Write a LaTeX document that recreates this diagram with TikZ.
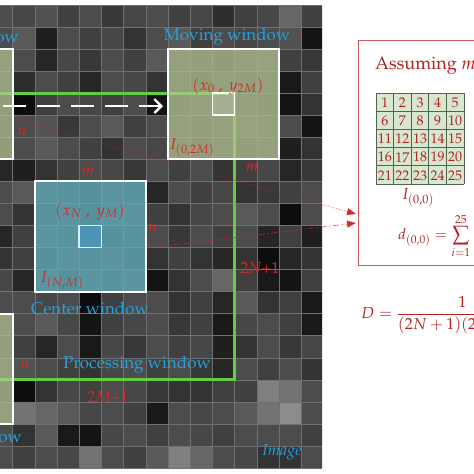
\documentclass[tikz,border=0pt]{standalone}
\usepackage[T1]{fontenc}
\usepackage{mathpazo}
\usetikzlibrary{arrows.meta}
\definecolor{lblue}{RGB}{40,160,218}
\definecolor{lred}{RGB}{212,40,40}
\definecolor{dred}{RGB}{178,32,36}
\definecolor{boxred}{RGB}{205,90,90}
\definecolor{pgreen}{RGB}{96,206,64}
\definecolor{wolive}{RGB}{181,198,146}
\definecolor{wteal}{RGB}{96,181,196}
\definecolor{wtealc}{RGB}{70,150,195}
\definecolor{tabfill}{RGB}{216,232,208}
\definecolor{tabline}{RGB}{80,100,80}
\tikzset{
 blab/.style={text=lblue, font=\fontsize{17}{20}\selectfont, inner sep=0},
 rlab/.style={text=lred, font=\fontsize{16}{19}\selectfont, inner sep=0},
 gridline/.style={draw=white!44!black, line width=0.6},
 winborder/.style={draw=white, line width=2},
 olivewin/.style={fill=wolive, fill opacity=0.7},
 tabnum/.style={text=dred, font=\fontsize{14}{16}\selectfont, inner sep=0},
 redlink/.style={draw=lred, line width=0.6, draw opacity=0.8},
}
\begin{document}
\begin{tikzpicture}[x=1pt,y=-1pt]
\useasboundingbox (0,0) rectangle (474,474);
\fill[white] (0,0) rectangle (474,474);
\begin{scope}
\clip (0,0) rectangle (474,474);
% ---------- image grid ----------
\begin{scope}
\clip (0,5) rectangle (322,468);
\foreach \r [count=\j from 0] in {
 {30,28,32,25,30,22,28,30,25,28,18,25,28,40,25},
 {30,35,12,30,25,28,20,30,35,25,30,28,30,32,8},
 {30,30,15,28,22,30,25,35,30,28,25,30,32,25,22},
 {30,18,30,25,15,30,28,20,30,25,30,28,30,10,25},
 {25,5,25,30,28,25,30,8,28,30,32,30,28,8,20},
 {28,30,33,22,30,35,25,30,30,28,30,32,30,30,8},
 {25,30,35,30,25,20,30,28,30,25,30,28,30,12,20},
 {15,12,20,25,30,28,22,30,25,30,20,25,28,15,22},
 {30,35,30,28,25,30,28,15,30,25,28,20,22,25,30},
 {30,20,28,30,25,32,30,25,20,28,30,35,30,5,30},
 {15,25,30,28,30,25,28,30,22,30,25,30,15,25,12},
 {20,25,25,30,28,30,25,20,25,20,15,20,5,15,20},
 {28,15,30,25,30,28,30,8,20,30,40,25,10,8,25},
 {30,30,28,30,5,25,30,30,20,25,15,35,20,25,10},
 {30,30,35,28,8,25,28,30,22,25,10,28,30,25,10},
 {28,25,15,30,10,28,22,30,25,28,12,20,30,22,28},
 {30,32,30,25,20,28,30,25,30,22,15,30,25,30,20},
 {25,5,20,28,25,30,28,22,20,20,25,25,50,45,30},
 {30,45,40,35,28,30,25,10,30,28,30,35,45,55,30},
 {30,20,35,10,8,28,30,25,30,28,25,30,30,30,25},
 {30,25,30,28,45,30,25,35,50,40,30,28,20,20,30}} {
  \foreach \g [count=\i from 0] in \r {
   \fill[white!\g!black] ({-9.6+22.2*\i},{5+22.05*\j}) rectangle ++(22.2,22.05);
  }
 }
\foreach \i in {0,...,15} \draw[gridline] ({-9.6+22.2*\i},5) -- ++(0,463);
\foreach \j in {0,...,21} \draw[gridline] (0,{5+22.05*\j}) -- (322,{5+22.05*\j});
\end{scope}
% ---------- processing window ----------
\coordinate (pwtl) at (-3,93.2);
\coordinate (pwtr) at (234.6,93.2);
\coordinate (pwbr) at (234.6,379.85);
\coordinate (pwbl) at (-3,379.85);
\draw[pgreen, line width=2.8] (pwtl) -- (pwtr) -- (pwbr) -- (pwbl);
% ---------- windows ----------
\fill[olivewin] (-100,49.1) rectangle (12.6,159.35);
\draw[winborder] (-100,49.1) rectangle (12.6,159.35);
\fill[olivewin] (-100,313.7) rectangle (12.6,423.95);
\draw[winborder] (-100,313.7) rectangle (12.6,423.95);
\fill[olivewin] (168,49.1) rectangle (279,159.35);
\fill[white, fill opacity=0.15] (212.4,93.2) rectangle (234.6,115.25);
\draw[winborder, line width=1.6] (212.4,93.2) rectangle (234.6,115.25);
\draw[winborder] (168,49.1) rectangle (279,159.35);
\fill[wteal, fill opacity=0.7] (34.8,181.4) rectangle (145.8,291.65);
\fill[wtealc, fill opacity=0.6] (79.2,225.5) rectangle (101.4,247.55);
\draw[winborder, line width=1.6, draw=white!85!cyan] (79.2,225.5) rectangle (101.4,247.55);
\draw[winborder] (34.8,181.4) rectangle (145.8,291.65);
% ---------- dashed arrow ----------
\coordinate (da1) at (3,106);
\coordinate (da2) at (163,106);
\draw[white, line width=2.6, dash pattern=on 23 off 11, -{Straight Barb[length=7,width=14,line width=2.4]}] (da1) -- (da2);
% ---------- labels ----------
\node[blab, anchor=east] (lw1) at (19,37) {window};
\node[blab] (lmw) at (227,37) {Moving window};
\node[blab] (lcw) at (90,309) {Center window};
\node[blab] (lpw) at (137,365) {Processing window};
\node[blab, anchor=east] (lw2) at (22,437) {window};
\node[blab, font=\fontsize{16}{19}\selectfont\itshape] (limg) at (282,452) {Image};
\node[rlab] (lxy0) at (228,86) {$(x_0\ ,\ y_{2M})$};
\node[rlab] (li02m) at (192,148) {$I_{(0,2M)}$};
\node[rlab] (lxyn) at (90,211) {$(x_N\ ,\ y_M)$};
\node[rlab] (linm) at (62,281) {$I_{(N,M)}$};
\node[rlab] (lm1) at (88,172) {$m$};
\node[rlab] (lm2) at (252,168) {$m$};
\node[rlab] (ln1) at (22,132) {$n$};
\node[rlab] (ln2) at (153,228) {$n$};
\node[rlab] (ln3) at (25,365) {$n$};
\node[rlab] (l2n) at (260,268) {2\textit{N}+1};
\node[rlab] (l2m) at (108,397) {2\textit{M}+1};
% ---------- right panel ----------
\draw[boxred, line width=1] (358,40) rectangle (490,265);
\node[text=dred, font=\fontsize{18}{21}\selectfont, anchor=west, inner sep=0] (lassume) at (375,66) {Assuming $m=n=5$};
\foreach \n [count=\k from 0] in {1,...,25} {
  \pgfmathtruncatemacro{\cx}{mod(\k,5)}
  \pgfmathtruncatemacro{\cy}{div(\k,5)}
  \fill[tabfill] ({376+17.6*\cx},{93+18.2*\cy}) rectangle ++(17.6,18.2);
}
\foreach \cx in {0,...,5} \draw[tabline, line width=1] ({376+17.6*\cx},93) -- ++(0,91);
\foreach \cy in {0,...,5} \draw[tabline, line width=1] (376,{93+18.2*\cy}) -- ++(88,0);
\foreach \n [count=\k from 0] in {1,...,25} {
  \pgfmathtruncatemacro{\cx}{mod(\k,5)}
  \pgfmathtruncatemacro{\cy}{div(\k,5)}
  \node[tabnum] (t\n) at ({376+17.6*\cx+8.8},{93+18.2*\cy+9.6}) {\n};
}
\node[rlab, text=dred] (li00) at (418,198) {$I_{(0,0)}$};
\node[text=dred, font=\fontsize{15}{18}\selectfont, anchor=west, inner sep=0] (ldform) at (398,236) {$\displaystyle d_{(0,0)}=\sum_{i=1}^{25}\left|I^{i}_{(0,0)}-I^{i}_{(N,M)}\right|$};
\node[text=dred, font=\fontsize{16}{19}\selectfont, anchor=west, inner sep=0] (lDform) at (361,315) {$\displaystyle D=\frac{1}{(2N+1)(2M+1)}\sum d$};
% ---------- red links ----------
\coordinate (s1) at (14,119);
\coordinate (e1) at (356,214);
\coordinate (s2) at (147,248);
\coordinate (e2) at (356,223);
\draw[redlink, densely dotted, -{Triangle[length=9,width=7]}] (s1) -- (e1);
\draw[redlink, dash pattern=on 6 off 2.5 on 1.5 off 2.5, -{Triangle[length=9,width=7]}] (s2) -- (e2);
\end{scope}
\end{tikzpicture}
\end{document}
